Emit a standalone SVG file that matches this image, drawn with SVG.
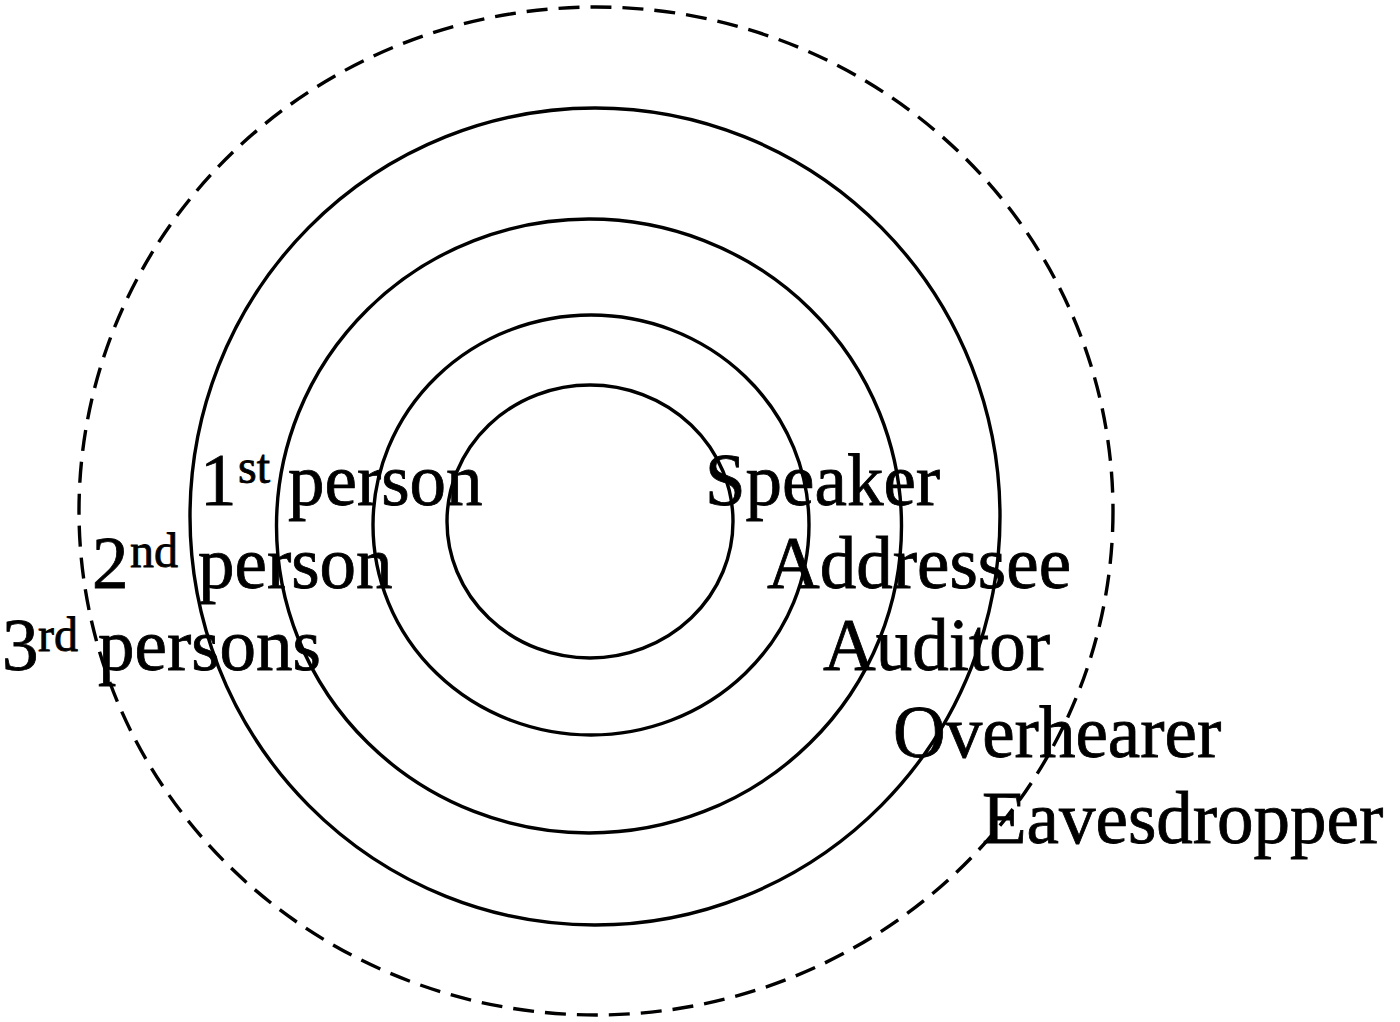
<svg xmlns="http://www.w3.org/2000/svg" width="1400" height="1022" viewBox="0 0 1400 1022">
<style>
.ring{fill:none;stroke:#000;stroke-width:3.4}
.dash{stroke-dasharray:21 11}
.lbl{font-family:"Liberation Serif","Times New Roman",serif;font-size:73px;fill:#000;stroke:#000;stroke-width:0.8}
.sup{font-size:48px}
</style>
<rect width="1400" height="1022" fill="#fff"/>
<g id="rings">
<ellipse id="ring-speaker" class="ring" cx="590" cy="521.5" rx="143" ry="136.5"/>
<ellipse id="ring-addressee" class="ring" cx="591" cy="525" rx="218" ry="210"/>
<ellipse id="ring-auditor" class="ring" cx="589" cy="526" rx="312.5" ry="307"/>
<ellipse id="ring-overhearer" class="ring" cx="595" cy="516.5" rx="405" ry="408.5"/>
<ellipse id="ring-eavesdropper" class="ring dash" cx="596" cy="511" rx="517" ry="504"/>
</g>
<g id="labels-left">
<text id="first" class="lbl" y="505"><tspan x="200">1</tspan><tspan class="sup" x="238" dy="-22">st</tspan><tspan x="288" dy="22">person</tspan></text>
<text id="second" class="lbl" y="588"><tspan x="92">2</tspan><tspan class="sup" x="130" dy="-21">nd</tspan><tspan x="198" dy="21">person</tspan></text>
<text id="third" class="lbl" y="670"><tspan x="2">3</tspan><tspan class="sup" x="38" dy="-19">rd</tspan><tspan x="98" dy="19">persons</tspan></text>
</g>
<g id="labels-right">
<text id="speaker" class="lbl" x="705" y="505">Speaker</text>
<text id="addressee" class="lbl" x="767" y="588">Addressee</text>
<text id="auditor" class="lbl" x="823" y="670">Auditor</text>
<text id="overhearer" class="lbl" x="893" y="757">Overhearer</text>
<text id="eavesdropper" class="lbl" x="982" y="843" font-size="74">Eavesdropper</text>
</g>
</svg>
